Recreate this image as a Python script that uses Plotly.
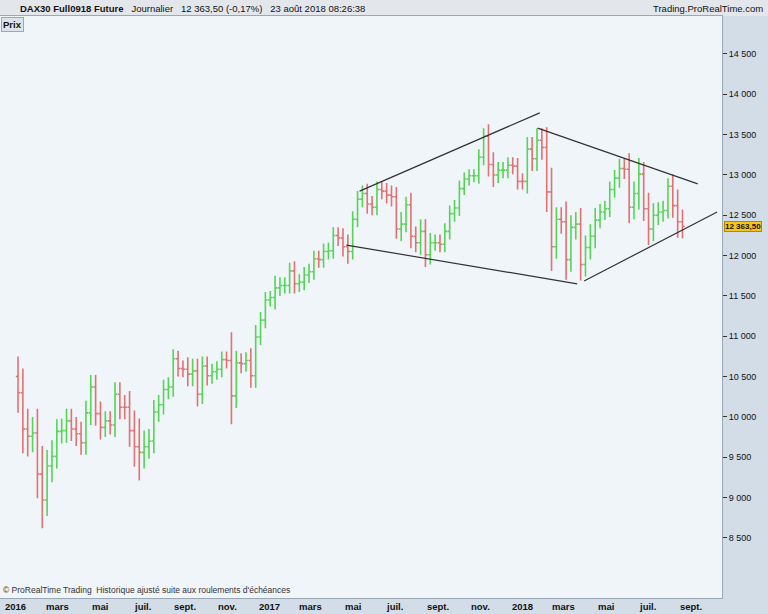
import pandas as pd
import plotly.graph_objects as go

closes = [
 10300, 9850, 9760, 9800, 9290, 8970, 9390, 9510, 9820, 9830, 9950, 9850,
 9790, 9680, 10050, 10370, 10040, 9870, 9950, 9900, 10280, 10120,
 10120, 9830, 9630, 9560, 9630, 9700, 10060, 10150, 10340,
 10370, 10720, 10600, 10590, 10530, 10570, 10280, 10630, 10510,
 10560, 10590, 10710, 10700, 10260, 10670, 10660, 10700, 10510, 10990, 11200, 11450, 11480,
 11600, 11630, 11630, 11810, 11650, 11670, 11760, 11800, 11960, 11950, 12050, 12060, 12250,
 12220, 12110, 12050, 12450, 12700, 12770, 12640, 12600, 12820, 12800, 12750, 12730, 12330,
 12390, 12630, 12240, 12160, 12300, 12010, 12160, 12160, 12140, 12300, 12520, 12590, 12830,
 12950, 12990, 12990, 13220, 13480, 13130, 13000, 13060, 13060, 13120, 13110, 12920, 12920,
 13320, 13200, 13430, 13340, 12790, 12110, 12450, 12420, 11950, 12350, 12390, 11890, 12100,
 12240, 12440, 12540, 12580, 12820, 12960, 13080, 13070, 12600, 12770, 13010, 12580, 12330,
 12500, 12540, 12560, 12860, 12620, 12420, 12363.5]
wicks = [
 250, 300, 250, 200, 300, 350, 200, 200, 150, 150, 150, 150,
 150, 150, 150, 150, 150, 150, 120, 120, 150, 150,
 150, 200, 250, 350, 200, 150, 150, 120, 120,
 120, 120, 100, 100, 150, 150, 150, 120, 120,
 100, 100, 100, 100, 350, 150, 120, 100, 150, 150, 100, 100, 80,
 150, 100, 100, 100, 120, 100, 100, 100, 100, 100, 100, 100, 100,
 100, 120, 150, 100, 100, 100, 120, 100, 100, 100, 100, 120, 120,
 150, 100, 150, 120, 150, 150, 120, 100, 100, 100, 100, 100, 100,
 80, 80, 80, 100, 100, 150, 150, 100, 100, 100, 100, 100, 100,
 150, 150, 150, 150, 250, 300, 150, 150, 250, 150, 150, 200, 150,
 150, 150, 100, 100, 100, 100, 120, 120, 200, 150, 200, 150, 200,
 150, 120, 120, 100, 150, 200, 150]
start_week = "2016-01-04"

trend_dates = [["2017-05-11", "2018-01-26"], ["2017-04-22", "2018-03-21"],
               ["2018-01-23", "2018-09-11"], ["2018-03-31", "2018-10-09"]]
trend_prices = [[12800, 13770], [12130, 11650], [13580, 12890], [11685, 12540]]

ytick_vals = [8500, 9000, 9500, 10000, 10500, 11000, 11500, 12000, 12500, 13000, 13500, 14000, 14500]
ytick_text = ["8 500", "9 000", "9 500", "10 000", "10 500", "11 000", "11 500", "12 000",
              "12 500", "13 000", "13 500", "14 000", "14 500"]
xtick_vals = ["2016-01-01", "2016-03-01", "2016-05-01", "2016-07-01", "2016-09-01", "2016-11-01",
              "2017-01-01", "2017-03-01", "2017-05-01", "2017-07-01", "2017-09-01", "2017-11-01",
              "2018-01-01", "2018-03-01", "2018-05-01", "2018-07-01", "2018-09-01"]
xtick_text = ["2016", "mars", "mai", "juil.", "sept.", "nov.", "2017", "mars", "mai", "juil.",
              "sept.", "nov.", "2018", "mars", "mai", "juil.", "sept."]
last_price = 12363.5

dates = pd.date_range(start_week, periods=len(closes), freq="W-MON")
opens = [closes[0] + 200] + closes[:-1]
highs = [max(o, c) + w for o, c, w in zip(opens, closes, wicks)]
lows = [min(o, c) - w for o, c, w in zip(opens, closes, wicks)]

fig = go.Figure()
fig.add_trace(go.Ohlc(x=dates, open=opens, high=highs, low=lows, close=closes,
                      increasing_line_color="#3ccf3c", decreasing_line_color="#e25a5a",
                      line_width=1.6, tickwidth=0.45, opacity=0.85, showlegend=False,
                      hoverinfo="skip"))
for d, p in zip(trend_dates, trend_prices):
    fig.add_trace(go.Scatter(x=d, y=p, mode="lines", line=dict(color="#333333", width=1.2),
                             showlegend=False, hoverinfo="skip"))

fig.update_layout(
    width=768, height=614, margin=dict(l=0, r=46, t=16, b=16, autoexpand=False),
    paper_bgcolor="#d3dde7", plot_bgcolor="#f0f5fa",
    font=dict(family="Liberation Sans, Arial", size=10, color="#111"),
    xaxis=dict(range=["2015-12-09", "2018-10-16"], showticklabels=False, automargin=False,
               showgrid=False, rangeslider=dict(visible=False), ticks="", zeroline=False,
               showline=True, linecolor="#9aa8b5", mirror=True),
    yaxis=dict(range=[7754, 14971], side="right", tickvals=ytick_vals, ticktext=ytick_text,
               showgrid=False, ticks="outside", ticklen=4, tickcolor="#333", automargin=False,
               tickfont=dict(size=9, color="#111"), zeroline=False,
               showline=True, linecolor="#9aa8b5", mirror=True),
    shapes=[dict(type="rect", xref="paper", yref="paper", x0=0, x1=1.07, y0=1.0, y1=1.03,
                 fillcolor="#e3e7ec", line_width=0, layer="below")],
)
for v, t in zip(xtick_vals, xtick_text):
    fig.add_annotation(x=v, xref="x", yref="paper", y=0, yanchor="top", text="<b>" + t + "</b>",
                       showarrow=False, font=dict(size=9.5, color="#111"), yshift=-1)
fig.add_annotation(xref="paper", yref="paper", x=0.0, y=1.0, xanchor="left", yanchor="bottom",
                   text="<b>DAX30 Full0918 Future</b>   Journalier   12 363,50 (-0,17%)   23 août 2018 08:26:38",
                   showarrow=False, font=dict(size=9.5, color="#111"), xshift=18, yshift=0)
fig.add_annotation(xref="paper", yref="paper", x=1.06, y=1.0, xanchor="right", yanchor="bottom",
                   text="Trading.ProRealTime.com", showarrow=False, font=dict(size=9.5, color="#111"), yshift=0)
fig.add_annotation(xref="paper", yref="paper", x=0.0, y=1.0, xanchor="left", yanchor="top",
                   text="<b>Prix</b>", showarrow=False, font=dict(size=9.5), bgcolor="#dde3ea",
                   bordercolor="#9aa8b5", borderwidth=1, xshift=1, yshift=-1)
fig.add_annotation(xref="paper", yref="paper", x=0.0, y=0.0, xanchor="left", yanchor="bottom",
                   text="© ProRealTime Trading  Historique ajusté suite aux roulements d'échéances",
                   showarrow=False, font=dict(size=8.5, color="#333"), xshift=1, yshift=1)
fig.add_annotation(xref="paper", yref="y", x=1.0, y=last_price, xanchor="left",
                   text="<b>12 363,50</b>", showarrow=False, font=dict(size=8, color="#111"),
                   bgcolor="#f5c518", bordercolor="#b08a00", borderwidth=1, xshift=2, borderpad=0)
fig.write_html("out.html", config={"displayModeBar": False},
               post_script="document.body.style.margin='0';document.body.style.overflow='hidden';")
